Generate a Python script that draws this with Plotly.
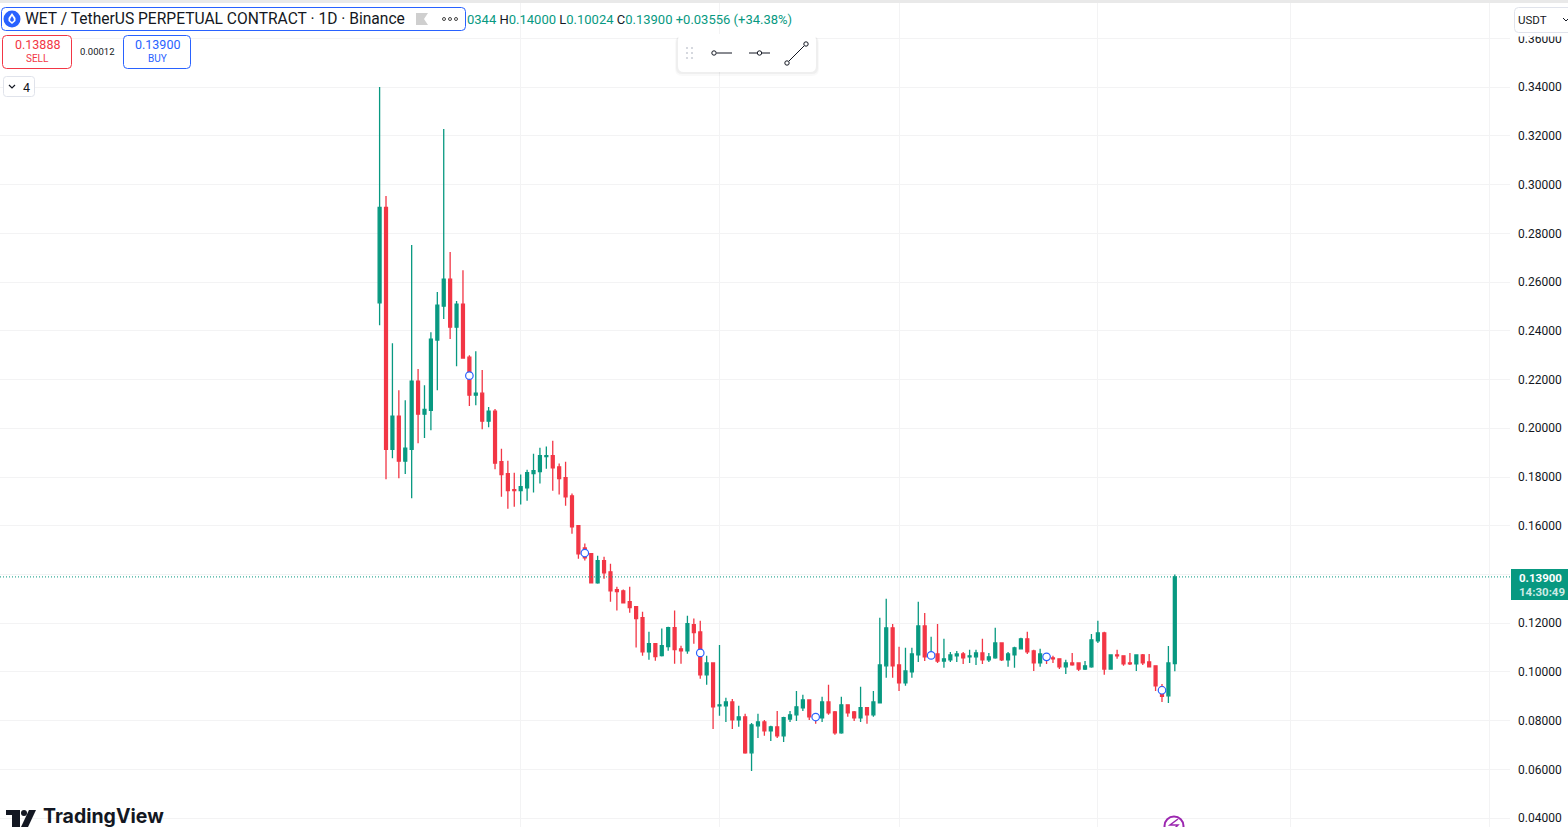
import pandas as pd
import plotly.graph_objects as go

W, H = 1568, 827
PLOT_R = 1510
GREEN, RED, BLUE, INK = "#089981", "#F23645", "#2962FF", "#131722"
FONT = "Roboto"

first_day = "2025-12-10"
opens = [.2515,.2907,.1914,.2050,.1865,.1914,.2193,.2058,.2074,.2362,.2501,.2612,.2415,.2509,.2292,.2136,.2144,.2029,.2070,.1863,
         .1814,.1748,.1744,.1756,.1814,.1822,.1884,.1888,.1842,.1797,.1723,.1600,.1509,.1485,.1366,.1457,.1411,.1338,.1333,.1289,
         .1268,.1223,.1083,.1116,.1067,.1104,.1182,.1095,.1087,.1194,.1164,.0988,.1037,.0861,.0861,.0877,.0803,.0816,.0668,.0779,
         .0795,.0758,.0775,.0738,.0807,.0824,.0853,.0885,.0820,.0812,.0877,.0836,.0750,.0865,.0836,.0812,.0853,.0824,.0873,.1025,
         .1181,.1029,.0955,.1000,.1070,.1189,.1060,.1074,.1045,.1050,.1066,.1074,.1062,.1062,.1078,.1050,.1058,.1119,.1050,.1070,
         .1095,.1136,.1086,.1037,.1070,.1058,.1054,.1021,.1037,.1037,.1012,.1021,.1128,.1160,.1012,.1070,.1066,.1037,.1033,.1070,
         .1041,.1025,.0940,.0902,.10344]
highs = [.3401,.2953,.2349,.2156,.2115,.2752,.2243,.2177,.2394,.2559,.3228,.2723,.2522,.2649,.2300,.2316,.2239,.2087,.2079,.1916,
         .1867,.1818,.1810,.1830,.1896,.1920,.1925,.1949,.1855,.1863,.1732,.1600,.1527,.1485,.1477,.1473,.1444,.1350,.1338,.1350,
         .1268,.1247,.1165,.1116,.1178,.1186,.1252,.1108,.1231,.1219,.1210,.1066,.1037,.1111,.0894,.0889,.0861,.0828,.0791,.0828,
         .0803,.0779,.0840,.0816,.0840,.0922,.0906,.0885,.0830,.0898,.0947,.0840,.0898,.0865,.0840,.0939,.0853,.0922,.1222,.1300,
         .1197,.1103,.1099,.1099,.1288,.1242,.1144,.1197,.1136,.1082,.1086,.1082,.1091,.1091,.1136,.1078,.1181,.1119,.1082,.1103,
         .1140,.1165,.1091,.1095,.1075,.1066,.1054,.1050,.1078,.1037,.1045,.1156,.1210,.1165,.1070,.1091,.1066,.1078,.1070,.1074,
         .1074,.1025,.0951,.1107,.14000]
lows = [.2423,.1791,.1877,.1795,.1812,.1713,.1939,.1960,.1992,.2156,.2448,.2366,.2255,.2288,.2091,.2095,.1996,.2004,.1832,.1719,
        .1670,.1678,.1687,.1703,.1736,.1773,.1834,.1744,.1728,.1682,.1567,.1465,.1457,.1366,.1362,.1383,.1288,.1252,.1284,.1243,
        .1100,.1067,.1050,.1046,.1063,.1087,.1034,.1034,.1075,.1116,.0972,.0947,.0766,.0820,.0795,.0766,.0775,.0664,.0594,.0729,
        .0738,.0717,.0729,.0713,.0795,.0799,.0840,.0803,.0787,.0795,.0824,.0742,.0746,.0816,.0799,.0795,.0787,.0816,.0873,.0976,
        .0976,.0922,.0943,.0976,.1041,.1045,.1055,.1037,.1017,.1041,.1041,.1033,.1037,.1029,.1033,.1041,.1054,.1045,.1021,.1017,
        .1095,.1074,.1004,.1021,.1033,.1037,.1012,.0992,.1025,.1004,.1008,.1017,.1119,.0988,.1012,.1054,.1025,.1029,.1004,.1029,
        .1021,.0922,.0877,.0873,.10024]
closes = [.2907,.1914,.2050,.1865,.1918,.2193,.2058,.2078,.2366,.2505,.2612,.2415,.2509,.2288,.2136,.2144,.2029,.2070,.1857,.1810,
          .1744,.1744,.1760,.1818,.1826,.1888,.1888,.1838,.1793,.1719,.1596,.1485,.1468,.1366,.1457,.1407,.1333,.1330,.1284,.1264,
          .1219,.1083,.1116,.1063,.1108,.1182,.1092,.1087,.1198,.1161,.0988,.1037,.0857,.0865,.0877,.0803,.0816,.0668,.0783,.0795,
          .0758,.0775,.0738,.0812,.0824,.0857,.0885,.0816,.0810,.0877,.0832,.0750,.0865,.0832,.0812,.0853,.0824,.0877,.1029,.1181,
          .1025,.0955,.1004,.1074,.1189,.1062,.1072,.1045,.1054,.1070,.1074,.1058,.1066,.1078,.1050,.1062,.1119,.1050,.1074,.1099,
          .1136,.1082,.1037,.1074,.1055,.1054,.1021,.1037,.1029,.1012,.1025,.1132,.1160,.1012,.1070,.1066,.1033,.1033,.1070,.1037,
          .1021,.0943,.0900,.1037,.13900]
event_bars = [14, 32, 50, 68, 86, 104, 122]
event_prices = [.2216, .1488, .1078, .0815, .1068, .1062, .0925]
last_price = 0.13900
price_ticks = [.04,.06,.08,.10,.12,.14,.16,.18,.20,.22,.24,.26,.28,.30,.32,.34,.36]
price_labels = ["0.04000","0.06000","0.08000","0.10000","0.12000","","0.16000","0.18000","0.20000","0.22000","0.24000",
                "0.26000","0.28000","0.30000","0.32000","0.34000","0.36000"]
month_lines = ["2026-01-01", "2026-02-01", "2026-03-01", "2026-04-01", "2026-05-01", "2026-06-01"]

dates = pd.date_range(first_day, periods=len(opens), freq="D")
event_dates = [dates[i] for i in event_bars]
day0 = pd.Timestamp(first_day)
x_range = [day0 - pd.Timedelta(days=379.6 / 6.413), day0 + pd.Timedelta(days=(PLOT_R - 379.6) / 6.413)]
y_range = [0.34 - (H - 87.15) / 2436.67, 0.34 + 87.15 / 2436.67]


def px(x):
    return x / PLOT_R


def py(y):
    return 1 - y / H


def round_rect(x0, y0, x1, y1, r, fill="white", line=None, lw=1, layer="above"):
    path = (f"M{px(x0+r)},{py(y0)} L{px(x1-r)},{py(y0)} Q{px(x1)},{py(y0)} {px(x1)},{py(y0+r)} "
            f"L{px(x1)},{py(y1-r)} Q{px(x1)},{py(y1)} {px(x1-r)},{py(y1)} L{px(x0+r)},{py(y1)} "
            f"Q{px(x0)},{py(y1)} {px(x0)},{py(y1-r)} L{px(x0)},{py(y0+r)} Q{px(x0)},{py(y0)} {px(x0+r)},{py(y0)} Z")
    return dict(type="path", xref="paper", yref="paper", path=path, fillcolor=fill,
                line=dict(color=line or "rgba(0,0,0,0)", width=lw if line else 0), layer=layer)


def poly(points, fill=None, line=None, lw=1, close=True):
    d = "M" + " L".join(f"{px(a)},{py(b)}" for a, b in points) + (" Z" if close else "")
    return dict(type="path", xref="paper", yref="paper", path=d, fillcolor=fill or "rgba(0,0,0,0)",
                line=dict(color=line or "rgba(0,0,0,0)", width=lw if line else 0), layer="above")


def circle(cx, cy, r, fill="white", line=None, lw=1):
    return dict(type="circle", xref="paper", yref="paper", x0=px(cx-r), x1=px(cx+r), y0=py(cy+r), y1=py(cy-r),
                fillcolor=fill, line=dict(color=line or "rgba(0,0,0,0)", width=lw if line else 0), layer="above")


def label(x, y, text, size=12, color=INK, anchor="left", family=FONT):
    return dict(x=px(x), y=py(y), xref="paper", yref="paper", text=text, showarrow=False, xanchor=anchor,
                yanchor="middle", align=anchor, font=dict(size=size, color=color, family=family),
                borderpad=0, borderwidth=0)


shapes = [
    dict(type="line", xref="paper", yref="y", x0=0, x1=px(1511), y0=last_price, y1=last_price,
         line=dict(color=GREEN, width=1, dash="1px,2px"), layer="above"),
    dict(type="rect", xref="paper", yref="paper", x0=0, x1=px(W), y0=py(3), y1=1, fillcolor="#E9E9E9",
         line=dict(width=0), layer="above"),
    round_rect(1.5, 7.5, 465.5, 30.5, 4, line=BLUE),
    circle(12, 19, 8.5, fill="#2962FF"),
    poly([(12, 13), (15.5, 18), (15.5, 21), (12, 24), (8.5, 21), (8.5, 18)], fill="white"),
    poly([(12, 16), (13.8, 19), (13.8, 20.5), (12, 22), (10.2, 20.5), (10.2, 19)], fill="#2962FF"),
    poly([(416, 13), (428, 13), (424, 19), (428, 25), (416, 25)], fill="#CFCFCF"),
    circle(444, 19, 1.5, fill="white", line="#444", lw=1),
    circle(450, 19, 1.5, fill="white", line="#444", lw=1),
    circle(456, 19, 1.5, fill="white", line="#444", lw=1),
    round_rect(2.5, 35.5, 71.5, 68.5, 4, line=RED),
    round_rect(123.5, 35.5, 190.5, 68.5, 4, line=BLUE),
    round_rect(3.5, 76.5, 34.5, 96.5, 3, line="#E0E3EB"),
    poly([(9, 85), (12, 88), (15, 85)], line="#131722", lw=1.2, close=False),
    # drawing toolbar with soft shadow
    round_rect(675, 36, 819, 76, 7, fill="rgba(0,0,0,0.025)"),
    round_rect(676, 36, 818, 74, 6, fill="rgba(0,0,0,0.04)"),
    round_rect(678, 34, 816, 72, 6, fill="white"),
] + [circle(x, y, 1.1, fill="#CDD0D8") for x in (687, 692) for y in (48, 53, 58)] + [
    circle(714, 53, 2.2, line=INK),
    poly([(716.5, 53), (732, 53)], line=INK, close=False),
    poly([(749, 53), (757, 53)], line=INK, close=False),
    circle(759.5, 53, 2.2, line=INK),
    poly([(762, 53), (770, 53)], line=INK, close=False),
    poly([(789, 61), (804, 46)], line=INK, close=False),
    circle(787, 63, 2.2, line=INK),
    circle(806, 44, 2.2, line=INK),
    # USDT drop-down, whose white surround hides the top of the 0.36 label
    dict(type="rect", xref="paper", yref="paper", x0=px(1512), x1=px(W), y0=py(36.5), y1=py(5), fillcolor="white",
         line=dict(width=0), layer="above"),
    round_rect(1514.5, 7.5, 1575, 32.5, 4, line="#E0E3EB"),
    poly([(1563, 18), (1566, 21), (1569, 18)], line=INK, close=False),
    # last-price tag
    dict(type="rect", xref="paper", yref="paper", x0=px(1511), x1=px(W), y0=py(600), y1=py(569), fillcolor=GREEN,
         line=dict(width=0), layer="above"),
    # TradingView logo
    poly([(6, 810), (20, 810), (20, 827), (12, 827), (12, 815), (6, 815)], fill=INK),
    circle(24, 813, 3, fill=INK),
    poly([(29, 810), (36, 810), (28, 827), (21, 827)], fill=INK),
    # purple event badge
    circle(1174, 826, 9.5, fill="white", line="#9C27B0", lw=2),
    poly([(1178, 819), (1170, 825), (1178, 825), (1172, 831)], line="#9C27B0", lw=1.5, close=False),
]

sep = '<span style="color:#131722">'
annotations = [
    label(25, 19, "WET / TetherUS PERPETUAL CONTRACT · 1D · Binance", size=15.6),
    label(467, 19, f'0344 {sep}H</span>0.14000 {sep}L</span>0.10024 {sep}C</span>0.13900 +0.03556 (+34.38%)',
          size=13, color=GREEN),
    label(37, 44.5, "0.13888", size=12.5, color=RED, anchor="center"),
    label(37, 59, "SELL", size=10, color=RED, anchor="center"),
    label(97, 51.5, "0.00012", size=9.5, anchor="center"),
    label(157, 44.5, "0.13900", size=12.5, color=BLUE, anchor="center"),
    label(157, 59, "BUY", size=10, color=BLUE, anchor="center"),
    label(23, 87, "4", size=12.5),
    label(1518, 19.5, "USDT", size=11.5),
    label(1540, 577.5, "<b>0.13900</b>", size=11.5, color="white", anchor="center"),
    label(1542, 592, "<b>14:30:49</b>", size=11.5, color="#CDEBE5", anchor="center"),
    label(43, 815.5, "<b>TradingView</b>", size=19.5, color=INK, family="Inter"),
]

fig = go.Figure()
fig.add_trace(go.Candlestick(
    x=dates, open=opens, high=highs, low=lows, close=closes,
    increasing=dict(line=dict(color=GREEN, width=1.3), fillcolor=GREEN),
    decreasing=dict(line=dict(color=RED, width=1.3), fillcolor=RED),
    whiskerwidth=0, hoverinfo="skip", showlegend=False,
))
fig.add_trace(go.Scatter(
    x=event_dates, y=event_prices, mode="markers", hoverinfo="skip", showlegend=False,
    marker=dict(size=7.5, color="white", line=dict(color=BLUE, width=1.2)),
))
fig.update_layout(
    width=W, height=H, margin=dict(l=0, r=W - PLOT_R, t=0, b=0), paper_bgcolor="white", plot_bgcolor="white",
    boxgap=0.35, shapes=shapes, annotations=annotations, showlegend=False, font=dict(family=FONT, color=INK),
    xaxis=dict(type="date", range=x_range, rangeslider=dict(visible=False), tickmode="array", tickvals=month_lines,
               showticklabels=False, showgrid=True, gridcolor="#F3F3F4", gridwidth=1, zeroline=False, showline=False,
               ticks=""),
    yaxis=dict(side="right", range=y_range, tickmode="array", tickvals=price_ticks, ticktext=price_labels,
               ticks="", ticklabelstandoff=7, showgrid=True, gridcolor="#F3F3F4", gridwidth=1, zeroline=False,
               showline=False, tickfont=dict(size=12, color=INK, family=FONT)),
)
fig.write_html("out.html", config=dict(displayModeBar=False),
               post_script="document.body.style.margin='0';document.body.style.overflow='hidden';")
